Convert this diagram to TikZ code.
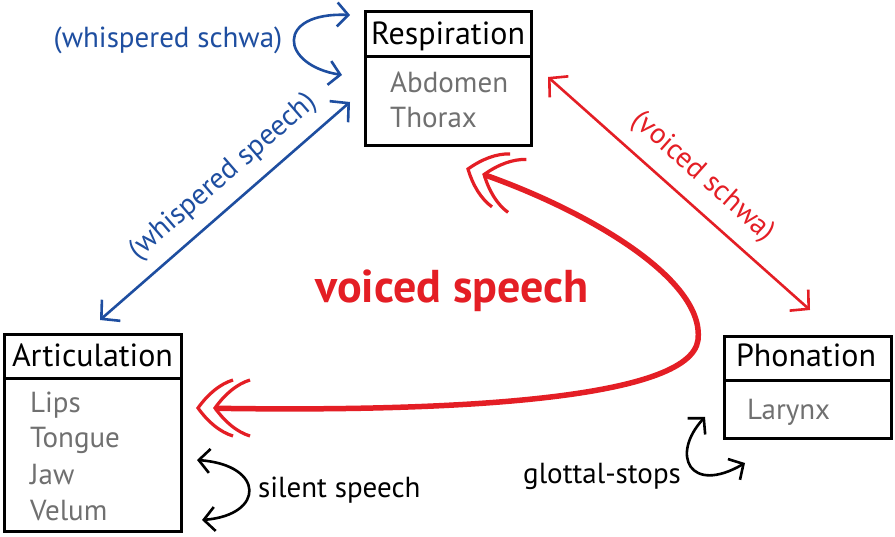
\documentclass[tikz,border=0pt]{standalone}
\usepackage{fontspec}
\setmainfont{PT Sans}
\usetikzlibrary{arrows.meta}
\definecolor{wblue}{RGB}{30,78,160}
\definecolor{vred}{RGB}{228,30,37}
\definecolor{itemgray}{RGB}{112,112,112}
\tikzset{chevrons/.pic={
  \foreach \s in {0,17}{
    \draw[vred, line width=3.2pt, line cap=butt, line join=miter]
      (\s+35,28) .. controls (\s+22,24) and (\s+10,14) .. (\s,0)
      .. controls (\s+10,-14) and (\s+22,-24) .. (\s+35,-28);
  }}}
\begin{document}
\begin{tikzpicture}[x=1pt,y=-1pt,
  box/.style={draw=black, line width=3pt, inner sep=0pt},
  divider/.style={draw=black, line width=3pt},
  boxtitle/.style={font=\fontsize{32}{36}\selectfont, anchor=base, inner sep=0pt},
  item/.style={font=\fontsize{29}{32}\selectfont, text=itemgray, anchor=base west, inner sep=0pt},
  lbl/.style={font=\fontsize{29}{32}\selectfont, inner sep=0pt},
  thinarrow/.style={line width=2.6pt, {Straight Barb[length=13pt,width=28pt]}-{Straight Barb[length=13pt,width=28pt]}},
  curlarrow/.style={line width=2.6pt, {Straight Barb[length=11pt,width=24pt]}-{Straight Barb[length=11pt,width=24pt]}},
  bigline/.style={draw=vred, line width=5.5pt, shorten >=17pt, shorten <=17pt}
]
\useasboundingbox[fill=white] (0,0) rectangle (895,537);

% boxes
\node[box, minimum width=166pt, minimum height=134pt] (resp) at (448.5,78.5) {};
\node[box, minimum width=177pt, minimum height=197pt] (art) at (93,433) {};
\node[box, minimum width=167pt, minimum height=102pt] (phon) at (808,387.5) {};
\draw[divider] (resp.west |- 0,57) -- (resp.east |- 0,57);
\draw[divider] (art.west |- 0,379) -- (art.east |- 0,379);
\draw[divider] (phon.west |- 0,381) -- (phon.east |- 0,381);

% titles
\node[boxtitle] (respT) at (448,45) {Respiration};
\node[boxtitle] (artT) at (92.5,367) {Articulation};
\node[boxtitle] (phonT) at (806,367) {Phonation};

% items
\node[item] (abd) at (390,93) {Abdomen};
\node[item] (tho) at (390,128) {Thorax};
\node[item] (lips) at (30,413) {Lips};
\node[item] (tong) at (30,448) {Tongue};
\node[item] (jaw) at (30,484) {Jaw};
\node[item] (vel) at (30,520) {Velum};
\node[item] (lar) at (747,420) {Larynx};

% connector end points
\coordinate (wsA) at (100,320);
\coordinate (wsR) at (350,102);
\coordinate (vsR) at (548,77);
\coordinate (vsP) at (810,310);
\coordinate (wwU) at (350,15);
\coordinate (wwL) at (342,75);
\coordinate (ssU) at (197,460);
\coordinate (ssL) at (202,520);
\coordinate (gsU) at (705,417);
\coordinate (gsR) at (745,463);
\coordinate (vR) at (468,169);
\coordinate (vA) at (198,408);

% whispered speech
\draw[wblue, thinarrow] (wsA) -- (wsR);
\node[lbl, text=wblue, rotate=41] (wsL) at (223,177) {(whispered speech)};
% whispered schwa
\draw[wblue, curlarrow] (wwU) .. controls (275,12) and (280,65) .. (wwL);
\node[lbl, text=wblue, anchor=base] (wwT) at (168,48) {(whispered schwa)};
% voiced schwa
\draw[vred, thinarrow] (vsR) -- (vsP);
\node[lbl, text=vred, rotate=-41.6] (vsT) at (703,177) {(voiced schwa)};
% voiced speech
\draw[bigline] (vR) .. controls (590,212) and (705,280) .. (698,340)
  .. controls (690,400) and (450,412) .. (vA);
\pic[rotate=-19] at (vR) {chevrons};
\pic at (vA) {chevrons};
\node[font=\fontsize{46}{50}\selectfont\bfseries, text=vred, anchor=base, inner sep=0pt] (vsp) at (452,303) {voiced speech};
% silent speech
\draw[black, curlarrow] (ssU) .. controls (265,465) and (265,515) .. (ssL);
\node[lbl, anchor=base west] (ssT) at (258,497) {silent speech};
% glottal stops
\draw[black, curlarrow] (gsU) .. controls (670,455) and (690,495) .. (gsR);
\node[lbl, anchor=base west] (gsT) at (523,483) {glottal-stops};
\end{tikzpicture}
\end{document}
